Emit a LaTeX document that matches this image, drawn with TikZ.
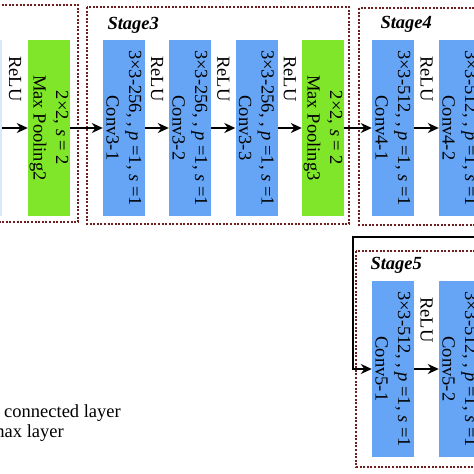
\documentclass[tikz,border=0pt]{standalone}
\usepackage{fontspec}
\setmainfont{Liberation Serif}
\usetikzlibrary{arrows.meta}

\definecolor{convblue}{RGB}{102,165,245}
\definecolor{poolgreen}{RGB}{127,230,42}
\definecolor{paleblue}{RGB}{218,233,249}
\definecolor{stagered}{RGB}{110,30,30}

\tikzset{
  layer/.style={rotate=-90, minimum width=176pt, minimum height=42pt, inner sep=0pt, align=center},
  conv/.style={layer, fill=convblue},
  pool/.style={layer, fill=poolgreen},
  stagebox/.style={draw=stagered, line width=2.2pt, dash pattern=on 2pt off 1.6pt},
  stagename/.style={anchor=west, font=\fontsize{18.5}{22}\selectfont\bfseries\itshape},
  flow/.style={line width=2.2pt, -{Stealth[length=11pt,width=10pt]}},
  relu/.style={rotate=-90, inner sep=0pt}
}

\begin{document}
\begin{tikzpicture}[x=1pt, y=-1pt, font=\fontsize{18.5}{22.5}\selectfont]
  \useasboundingbox (0,0) rectangle (474,474);
  \clip (0,0) rectangle (474,474);

  % stages
  \draw[stagebox] (-40,5) rectangle (78,222);
  \draw[stagebox] (87,7) rectangle (349,224);
  \draw[stagebox] (359,8) rectangle (520,225);
  \draw[stagebox] (356,251) rectangle (520,467);
  \node[stagename] (stage3) at (104,25) {Stage3};
  \node[stagename] (stage4) at (377,24) {Stage4};
  \node[stagename] (stage5) at (367,265) {Stage5};

  % layers
  \node[layer, fill=paleblue] (conv22) at (-19,128) {};
  \node[pool] (pool2) at (49,128) {2×2, \textit{s} = 2\\Max Pooling2};
  \node[conv] (conv31) at (124,128) {3×3-256, , \textit{p} =1, \textit{s} =1\\Conv3-1};
  \node[conv] (conv32) at (190,128) {3×3-256, , \textit{p} =1, \textit{s} =1\\Conv3-2};
  \node[conv] (conv33) at (256.5,128) {3×3-256, , \textit{p} =1, \textit{s} =1\\Conv3-3};
  \node[pool] (pool3) at (323,128) {2×2, \textit{s} = 2\\Max Pooling3};
  \node[conv] (conv41) at (393,128) {3×3-512, , \textit{p} =1, \textit{s} =1\\Conv4-1};
  \node[conv] (conv42) at (460,128) {3×3-512, , \textit{p} =1, \textit{s} =1\\Conv4-2};
  \node[conv] (conv51) at (393,369) {3×3-512, , \textit{p} =1, \textit{s} =1\\Conv5-1};
  \node[conv] (conv52) at (460,369) {3×3-512, , \textit{p} =1, \textit{s} =1\\Conv5-2};

  % connections
  \draw[flow] (conv22.north) -- node[yshift=49pt, relu] (relu22) {ReLU} (pool2.south);
  \draw[flow] (pool2.north) -- (conv31.south);
  \draw[flow] (conv31.north) -- node[yshift=49pt, relu] (relu31) {ReLU} (conv32.south);
  \draw[flow] (conv32.north) -- node[yshift=49pt, relu] (relu32) {ReLU} (conv33.south);
  \draw[flow] (conv33.north) -- node[yshift=49pt, relu] (relu33) {ReLU} (pool3.south);
  \draw[flow] (pool3.north) -- (conv41.south);
  \draw[flow] (conv41.north) -- node[yshift=49pt, relu] (relu41) {ReLU} (conv42.south);
  \draw[flow] (conv51.north) -- node[yshift=49pt, relu] (relu51) {ReLU} (conv52.south);
  \coordinate (pool4out) at (500,237);
  \coordinate (turn5) at (353,237);
  \draw[flow] (pool4out) -- (turn5) |- (conv51.south);

  % legend
  \node[anchor=base east, inner sep=0pt] (fclegend) at (121,417) {Fully connected layer};
  \node[anchor=base east, inner sep=0pt] (smlegend) at (64,437) {Softmax layer};
\end{tikzpicture}
\end{document}
